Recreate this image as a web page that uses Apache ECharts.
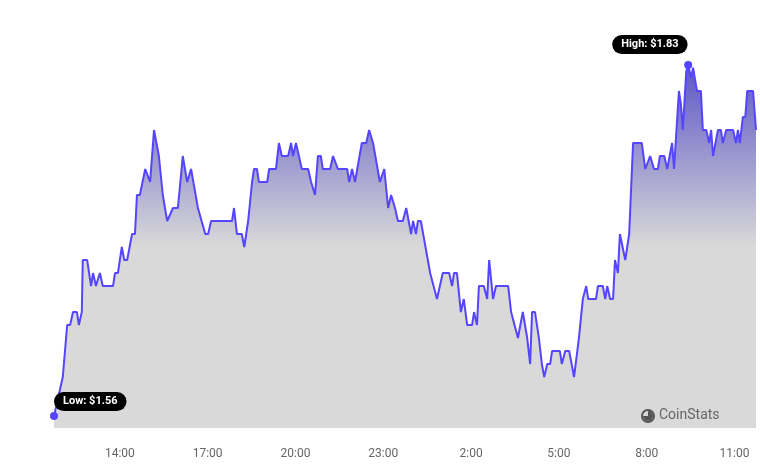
<!DOCTYPE html>
<html><head><meta charset="utf-8">
<script src="https://cdn.jsdelivr.net/npm/echarts@6/dist/echarts.min.js"></script>
<style>html,body{margin:0;padding:0;background:#fff}#c{width:760px;height:472px}</style>
</head><body><div id="c"></div>
<script>
// minutes since 11:45 start
const minutes = [
0,18,27,33,39,47,51,57,59,68,
76,80,86,94,100,121,125,131,139,144,
150,160,166,170,176,187,191,197,201,205,
215,223,232,236,244,254,264,273,281,295,
310,316,322,365,369,375,385,390,398,406,
410,416,420,437,441,455,461,467,480,486,
490,496,508,521,527,531,535,541,547,551,
566,572,576,582,601,605,611,617,631,640,
646,654,668,677,685,691,699,705,715,722,
732,736,742,746,752,771,775,785,797,810,
816,820,826,834,840,847,857,861,867,871,
881,888,892,896,900,906,931,937,941,951,
961,970,976,980,986,994,1000,1005,1011,1017,
1021,1037,1041,1048,1056,1066,1076,1084,1091,1095,
1111,1115,1125,1130,1134,1140,1146,1150,1156,1160,
1171,1179,1187,1193,1205,1212,1216,1222,1226,1230,
1238,1242,1251,1257,1267,1271,1281,1285,1289,1296,
1300,1306,1310,1318,1326,1330,1337,1343,1347,1351,
1361,1367,1371,1378,1392,1398,1402,1406,1412,1417,
1421,1433,1439];
const prices = [
1.56,1.59,1.63,1.63,1.64,1.64,1.63,1.64,1.68,1.68,
1.66,1.67,1.66,1.67,1.66,1.66,1.67,1.67,1.69,1.68,
1.68,1.70,1.70,1.73,1.73,1.75,1.75,1.74,1.74,1.78,
1.76,1.73,1.71,1.71,1.72,1.72,1.76,1.74,1.75,1.72,
1.70,1.70,1.71,1.71,1.72,1.70,1.70,1.69,1.71,1.74,
1.75,1.75,1.74,1.74,1.75,1.75,1.77,1.76,1.76,1.77,
1.76,1.77,1.75,1.75,1.74,1.74,1.73,1.76,1.76,1.75,
1.75,1.76,1.76,1.75,1.75,1.74,1.75,1.74,1.77,1.77,
1.78,1.77,1.74,1.75,1.72,1.73,1.72,1.71,1.71,1.72,
1.70,1.71,1.70,1.71,1.71,1.67,1.67,1.65,1.67,1.67,
1.66,1.67,1.67,1.64,1.65,1.63,1.63,1.64,1.63,1.66,
1.66,1.65,1.68,1.68,1.65,1.66,1.66,1.64,1.64,1.62,
1.64,1.62,1.60,1.64,1.64,1.62,1.60,1.59,1.60,1.60,
1.61,1.61,1.60,1.61,1.61,1.59,1.62,1.65,1.66,1.65,
1.65,1.66,1.66,1.65,1.66,1.65,1.65,1.68,1.67,1.70,
1.68,1.70,1.77,1.77,1.77,1.75,1.75,1.76,1.76,1.75,
1.75,1.76,1.76,1.75,1.77,1.75,1.81,1.80,1.78,1.825,
1.83,1.82,1.828,1.81,1.81,1.78,1.78,1.77,1.78,1.76,
1.78,1.78,1.77,1.78,1.78,1.77,1.78,1.77,1.79,1.79,
1.81,1.81,1.78];
const tickMinutes = [135,315,495,675,855,1035,1215,1395];
const tickLabels = ['14:00','17:00','20:00','23:00','2:00','5:00','8:00','11:00'];
const lowLabel = 'Low: $1.56', highLabel = 'High: $1.83';

const data = minutes.map((m,i)=>[m,prices[i]]);
let lowIdx=0, highIdx=0;
prices.forEach((p,i)=>{ if(p<prices[lowIdx]) lowIdx=i; if(p>prices[highIdx]) highIdx=i; });
const chart = echarts.init(document.getElementById('c'));
chart.setOption({
  animation:false,
  grid:{left:54,right:4,top:0,bottom:44},
  xAxis:{type:'value',min:0,max:1439,
    axisLine:{show:false},axisTick:{show:false},splitLine:{show:false},
    axisLabel:{customValues:tickMinutes,color:'#666',fontSize:12,fontFamily:'Roboto',margin:20,
      formatter:v=>tickLabels[tickMinutes.indexOf(v)]||''}},
  yAxis:{type:'value',min:1.5508,max:1.88,show:false},
  series:[{type:'line',data:data,symbol:'none',
    lineStyle:{color:'#5545ff',width:2},
    areaStyle:{opacity:1,color:new echarts.graphic.LinearGradient(0,0,0,1,[
      {offset:0,color:'#5d56c6'},{offset:0.5,color:'#d9d9d9'},{offset:1,color:'#d9d9d9'}])},
    markPoint:{symbol:'circle',symbolSize:8,itemStyle:{color:'#5545ff'},
      label:{show:true,color:'#fff',fontWeight:'bold',fontSize:11,fontFamily:'Roboto',
        backgroundColor:'#000',borderRadius:10,padding:[4,9]},
      data:[
        {coord:data[lowIdx],value:prices[lowIdx],label:{formatter:lowLabel,position:[4,-20]}},
        {coord:data[highIdx],value:prices[highIdx],label:{formatter:highLabel,position:[-72,-26]}}
      ]}
  }],
  graphic:[
    {type:'circle',z:100,shape:{cx:648,cy:416,r:6},style:{fill:'none',stroke:'#555',lineWidth:2}},
    {type:'sector',z:100,shape:{cx:648,cy:416,r:5,r0:0,startAngle:-Math.PI/2,endAngle:Math.PI},style:{fill:'#555'}},
    {type:'text',z:100,left:659,top:408,style:{text:'CoinStats',fill:'#666',font:'14px Roboto'}}
  ]
});
</script></body></html>
